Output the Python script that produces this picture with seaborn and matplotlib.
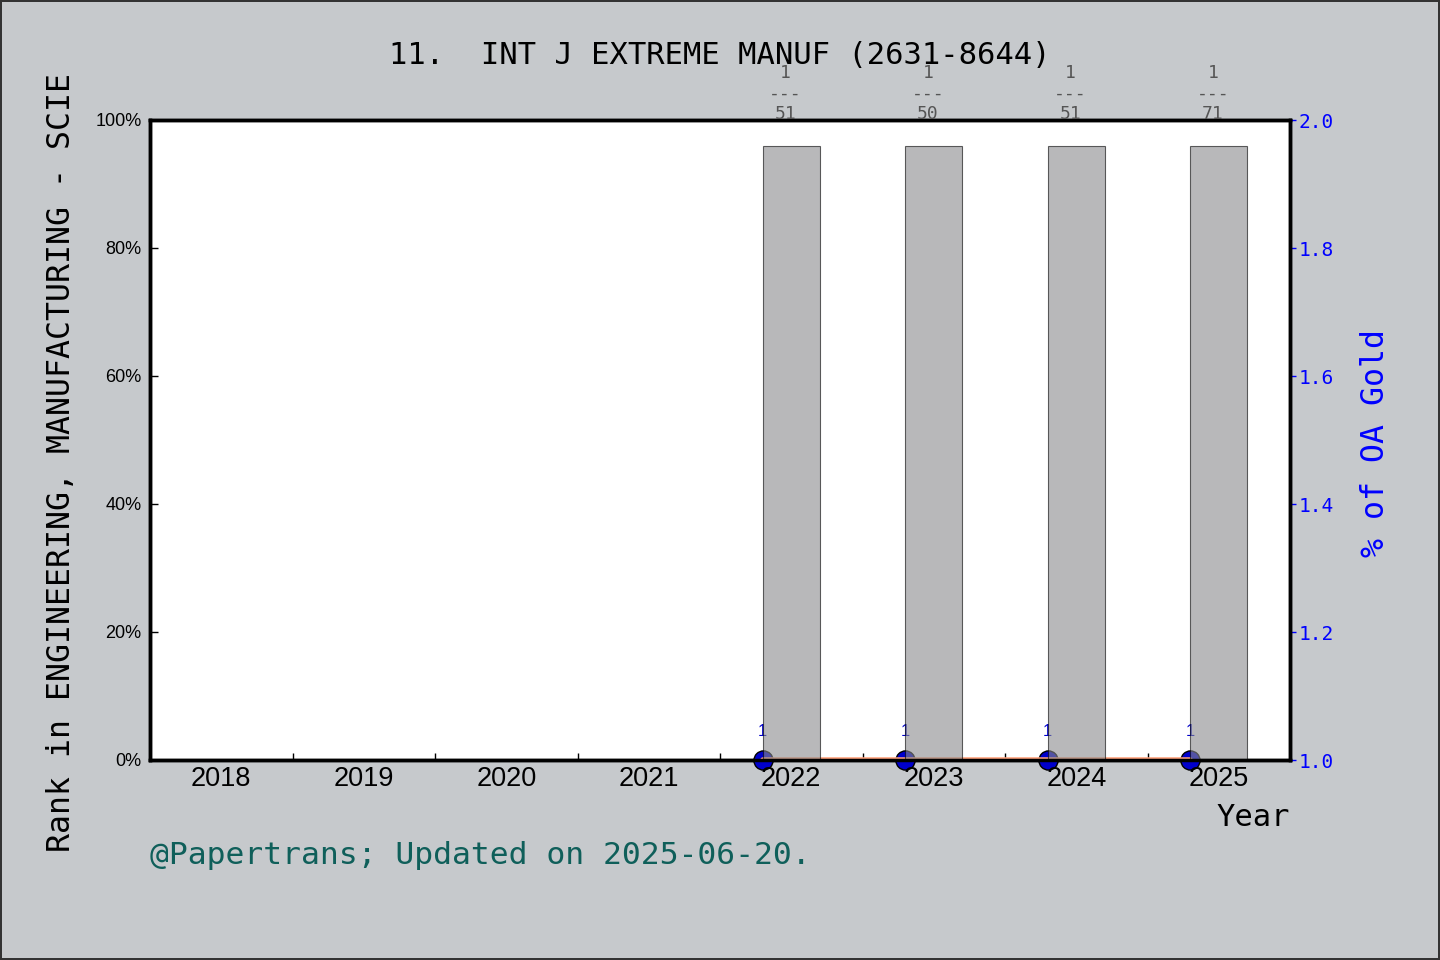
import matplotlib
matplotlib.use("Agg")
import matplotlib.pyplot as plt
import seaborn as sns
import pandas as pd
from matplotlib.ticker import FixedLocator, FuncFormatter

# ---- data ----
all_years = [2018, 2019, 2020, 2021, 2022, 2023, 2024, 2025]
bar_years = [2022, 2023, 2024, 2025]
rank_pct = [96, 96, 96, 96]          # bar heights (%)
rank_num = [1, 1, 1, 1]
rank_total = [51, 50, 51, 71]
oa_gold = [1, 1, 1, 1]               # right axis values
orange_vals = [0, 0, 0, 0]           # thin line along the bottom
left_ticks = [0, 20, 40, 60, 80, 100]
right_ticks = [1.0, 1.2, 1.4, 1.6, 1.8, 2.0]

title = "11.  INT J EXTREME MANUF (2631-8644)"
ylabel_left = "Rank in ENGINEERING, MANUFACTURING - SCIE"
ylabel_right = "% of OA Gold"
footer = "@Papertrans; Updated on 2025-06-20."

DODGE = 0.2   # horizontal offset of the point series relative to the bars

sns.set_style("white")
plt.rcParams["font.family"] = ["DejaVu Sans Mono", "DejaVu Sans"]
plt.rcParams["text.color"] = "black"
plt.rcParams["xtick.color"] = "black"
plt.rcParams["ytick.color"] = "black"

W, H = 1440, 960
fig = plt.figure(figsize=(14.4, 9.6), dpi=100)
fig.patch.set_facecolor("#C6C9CC")
fig.patch.set_edgecolor("#333333")
fig.patch.set_linewidth(1.5)

ax = fig.add_axes([150 / W, 1 - 760 / H, 1140 / W, 640 / H])
ax2 = ax.twinx()
ax.set_zorder(ax2.get_zorder() + 1)
ax.patch.set_visible(False)
ax2.patch.set_visible(True)
ax2.patch.set_facecolor("white")

pt_x = [y - DODGE for y in bar_years]
df_line = pd.DataFrame({"year": pt_x, "v": orange_vals})
df_pts = pd.DataFrame({"year": pt_x, "oa": oa_gold})

# right axis points
sns.scatterplot(data=df_pts, x="year", y="oa", ax=ax2, s=190, color="#0000CC",
                edgecolor="black", linewidth=1, zorder=3, clip_on=False, legend=False)
for x, v in zip(pt_x, oa_gold):
    ax2.text(x, v + 0.033, f"{v}", color="#0000CC", fontsize=12, ha="center",
             va="bottom", family="Liberation Sans")

# orange line on left axis
sns.lineplot(data=df_line, x="year", y="v", ax=ax, color="#FFA07A", linewidth=4,
             zorder=1, legend=False)

# bars
ax.bar(bar_years, rank_pct, width=0.4, align="center", color="#898A8C", alpha=0.6,
       edgecolor="black", linewidth=0.8, zorder=2)
for x, r, t in zip(bar_years, rank_num, rank_total):
    ax.text(x - 0.04, 99.6, f"{r}\n---\n{t}", ha="center", va="bottom",
            fontsize=13, color="#555555", linespacing=1.15, clip_on=False)

ax.set_xlim(2017.5, 2025.5)
ax.set_ylim(0, 100)
ax2.set_ylim(1.0, 2.0)
ax.set_xlabel("")
ax.set_ylabel("")
ax2.set_ylabel("")

ax.set_xticks(all_years)
ax.set_xticklabels([str(y) for y in all_years], family="Liberation Sans", fontsize=19.5)
ax.xaxis.set_minor_locator(FixedLocator([y + 0.5 for y in all_years[:-1]]))
ax.tick_params(axis="x", which="major", length=0, pad=4)
ax.tick_params(axis="x", which="minor", direction="in", length=5, width=1, color="black")
ax.tick_params(axis="x", which="both", bottom=True, top=False)

ax.set_yticks(left_ticks)
ax.yaxis.set_major_formatter(FuncFormatter(lambda v, p: f"{int(v)}%"))
ax.tick_params(axis="y", direction="in", length=6, width=1, color="black", pad=6,
               labelsize=13, left=True, right=False)
for lab in ax.get_yticklabels():
    lab.set_family("Liberation Sans")

ax2.set_yticks(right_ticks)
ax2.yaxis.set_major_formatter(FuncFormatter(lambda v, p: f"{v:.1f}"))
ax2.tick_params(axis="y", direction="out", length=4, width=1, color="#0000FF",
                labelcolor="#0000FF", labelsize=14, pad=2, right=True)

for a in (ax, ax2):
    for s in a.spines.values():
        s.set_color("black")
        s.set_linewidth(2.5)

fig.text(0.5, 1 - 56 / H, title, ha="center", va="center", fontsize=22)
fig.text(62 / W, 1 - 462 / H, ylabel_left, ha="center", va="center", rotation=90,
         fontsize=22.7)
fig.text(1375 / W, 1 - 443 / H, ylabel_right, ha="center", va="center", rotation=90,
         fontsize=22.7, color="#0000FF")
fig.text(1290 / W, 1 - 817 / H, "Year", ha="right", va="center", fontsize=22)
fig.text(150 / W, 1 - 855 / H, footer, ha="left", va="center", fontsize=22.6,
         color="#0F5F5A")

fig.savefig("out.png", dpi=100, facecolor=fig.get_facecolor(),
            edgecolor=fig.get_edgecolor())
